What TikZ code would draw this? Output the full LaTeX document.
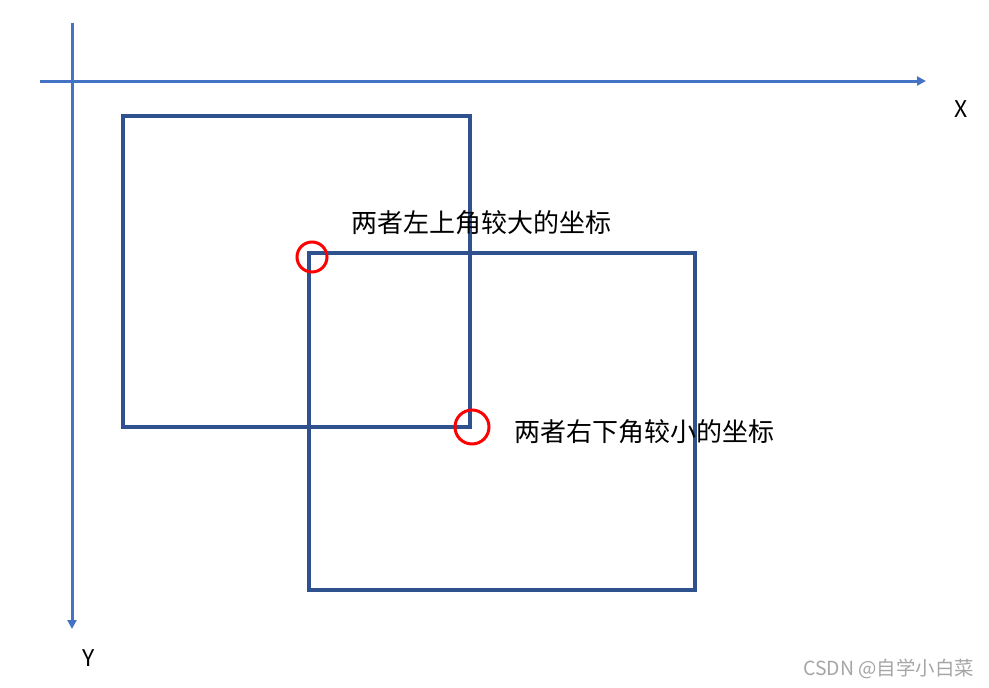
\documentclass[tikz,border=0pt]{standalone}
\usepackage{fontspec}
\setmainfont{Noto Sans CJK SC}
\usetikzlibrary{arrows.meta}
\definecolor{axisblue}{HTML}{4472C4}
\definecolor{boxblue}{HTML}{2F528F}
\begin{document}
\begin{tikzpicture}[x=1pt,y=-1pt,
  axis/.style={draw=axisblue,line width=3pt,-{Triangle[length=9pt,width=9pt]}},
  rectbox/.style={draw=boxblue,line width=3.2pt},
  mark circle/.style={draw=red,line width=3pt,circle,minimum size=#1,inner sep=0pt},
  lbl/.style={font=\fontsize{26}{28}\selectfont,inner sep=0pt},
  axlbl/.style={font=\fontsize{23}{26}\selectfont,inner sep=0pt},
  wm/.style={font=\fontsize{19.4}{21}\selectfont,text=gray!70,inner sep=0pt}]
\useasboundingbox (0,0) rectangle (989,688);
\fill[white] (0,0) rectangle (989,688);
\coordinate (xs) at (40,81);
\coordinate (xe) at (926,81);
\coordinate (ys) at (72,23);
\coordinate (ye) at (72,629);
\draw[axis] (xs) -- (xe);
\draw[axis] (ys) -- (ye);
\node[rectbox,minimum width=347pt,minimum height=311pt,inner sep=0pt] (r1) at (296.5,271.5) {};
\node[rectbox,minimum width=386pt,minimum height=337pt,inner sep=0pt] (r2) at (502,421.5) {};
\node[mark circle=30pt] (c1) at (312,257) {};
\node[mark circle=34pt] (c2) at (472,427) {};
\node[lbl] (t1) at (481,223) {两者左上角较大的坐标};
\node[lbl,anchor=west] (t2) at (514,432) {两者右下角较小的坐标};
\node[axlbl] (lx) at (961,109) {X};
\node[axlbl] (ly) at (89,658) {Y};
\node[wm,anchor=east] (w) at (974,669) {CSDN @自学小白菜};
\end{tikzpicture}
\end{document}
